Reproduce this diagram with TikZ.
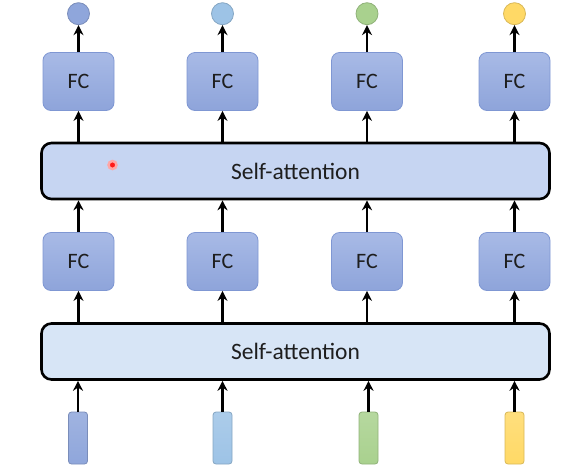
\documentclass[tikz,border=0pt]{standalone}
\usepackage{fontspec}
\setmainfont{Carlito}
\usetikzlibrary{arrows.meta,positioning}

\definecolor{fcline}{HTML}{7F97D3}
\definecolor{fctop}{HTML}{A8BAE6}
\definecolor{fcbot}{HTML}{8EA4DA}
\definecolor{txt}{HTML}{1E1E1E}
\definecolor{attop}{HTML}{C6D5F2}
\definecolor{atlow}{HTML}{D7E5F6}
\definecolor{purp}{HTML}{8FA6DB}
\definecolor{sky}{HTML}{9DC3E6}
\definecolor{leaf}{HTML}{A9D18E}
\definecolor{gold}{HTML}{FFD966}

\begin{document}
\begin{tikzpicture}[
    x=1pt, y=-1pt,
    font=\fontsize{22}{26}\selectfont,
    >={Stealth[length=10pt, width=10pt]},
    fc/.style={draw=fcline, line width=0.8pt, rounded corners=8pt, top color=fctop, bottom color=fcbot, text=txt, minimum width=71pt, minimum height=58pt, inner sep=0pt},
    att/.style={draw=black, line width=2.6pt, rounded corners=10pt, text=txt, font=\fontsize{23.5}{28}\selectfont, minimum width=508pt, minimum height=56pt, inner sep=0pt},
    outc/.style={circle, draw=#1!85!black, fill=#1, line width=0.8pt, minimum size=22pt, inner sep=0pt},
    inp/.style={draw=#1!85!black, top color=#1!85, bottom color=#1, line width=0.8pt, rounded corners=3pt, minimum width=19pt, minimum height=52pt, inner sep=0pt},
    link/.style={->, line width=2.8pt}
]
\useasboundingbox (0,0) rectangle (577,472);

% attention layers
\node[att, fill=atlow] (saLow) at (295.5,351.5) {Self-attention};
\node[att, fill=attop] (saTop) at (295.5,171) {Self-attention};

% first FC row
\node[fc] (fcA1) at (78.5,261.5) {FC};
\node[fc] (fcA2) at (222.5,261.5) {FC};
\node[fc] (fcA3) at (367,261.5) {FC};
\node[fc] (fcA4) at (514.5,261.5) {FC};

% second FC row
\node[fc] (fcB1) at (78.5,81.5) {FC};
\node[fc] (fcB2) at (222.5,81.5) {FC};
\node[fc] (fcB3) at (367,81.5) {FC};
\node[fc] (fcB4) at (514.5,81.5) {FC};

% outputs
\node[outc=purp, above=27pt of fcB1] (out1) {};
\node[outc=sky, above=27pt of fcB2] (out2) {};
\node[outc=leaf, above=27pt of fcB3] (out3) {};
\node[outc=gold, above=27pt of fcB4] (out4) {};

% inputs
\node[inp=purp] (in1) at (78,438) {};
\node[inp=sky] (in2) at (222.5,438) {};
\node[inp=leaf] (in3) at (368.5,438) {};
\node[inp=gold] (in4) at (514.5,438) {};

% pointer mark
\node[circle, fill=red!90, draw=red!35, line width=2.5pt, minimum size=8pt, inner sep=0pt] (ptr) at (112.5,165) {};

\draw[link] (in1.north) -- (in1.north |- saLow.south);
\draw[link] (in2.north) -- (in2.north |- saLow.south);
\draw[link] (in3.north) -- (in3.north |- saLow.south);
\draw[link] (in4.north) -- (in4.north |- saLow.south);

\draw[link] (fcA1.south |- saLow.north) -- (fcA1.south);
\draw[link] (fcA2.south |- saLow.north) -- (fcA2.south);
\draw[link] (fcA3.south |- saLow.north) -- (fcA3.south);
\draw[link] (fcA4.south |- saLow.north) -- (fcA4.south);

\draw[link] (fcA1.north) -- (fcA1.north |- saTop.south);
\draw[link] (fcA2.north) -- (fcA2.north |- saTop.south);
\draw[link] (fcA3.north) -- (fcA3.north |- saTop.south);
\draw[link] (fcA4.north) -- (fcA4.north |- saTop.south);

\draw[link] (fcB1.south |- saTop.north) -- (fcB1.south);
\draw[link] (fcB2.south |- saTop.north) -- (fcB2.south);
\draw[link] (fcB3.south |- saTop.north) -- (fcB3.south);
\draw[link] (fcB4.south |- saTop.north) -- (fcB4.south);

\draw[link] (fcB1.north) -- (out1.south);
\draw[link] (fcB2.north) -- (out2.south);
\draw[link] (fcB3.north) -- (out3.south);
\draw[link] (fcB4.north) -- (out4.south);
\end{tikzpicture}
\end{document}
